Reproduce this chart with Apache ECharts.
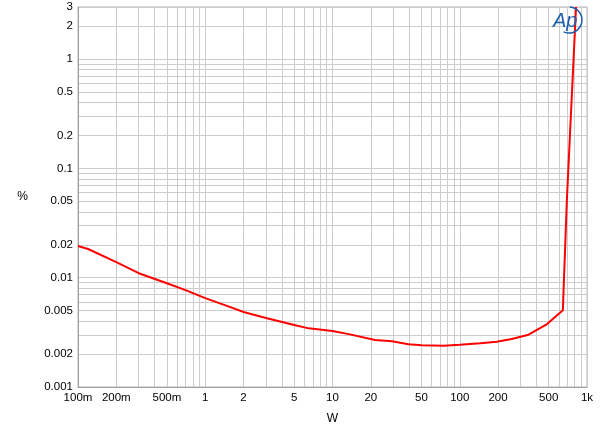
<!DOCTYPE html>
<html><head><meta charset="utf-8">
<script src="https://cdn.jsdelivr.net/npm/echarts@6/dist/echarts.min.js"></script>
<style>html,body{margin:0;padding:0;background:#fff}#c{width:600px;height:427px}</style>
</head><body><div id="c"></div>
<script>
const powerW = [0.1, 0.12, 0.2, 0.3, 0.5, 0.7, 1, 1.5, 2, 3, 5, 6.5, 10, 13.7, 21.6, 29.3, 39.5, 50.4, 74.5, 100, 145, 195, 256, 347, 478, 646, 694, 820];
const thdPct = [0.0195, 0.0183, 0.0139, 0.0110, 0.0089, 0.0077, 0.0065, 0.0055, 0.00485, 0.00428, 0.00369, 0.00344, 0.00325, 0.00303, 0.00269, 0.00262, 0.00246, 0.00241, 0.00239, 0.00244, 0.00251, 0.00260, 0.00275, 0.00301, 0.00372, 0.00503, 0.05, 3.0];
const xLabelValues = [0.1, 0.2, 0.5, 1, 2, 5, 10, 20, 50, 100, 200, 500, 1000];
const xLabelTexts = {0.1:'100m',0.2:'200m',0.5:'500m',1:'1',2:'2',5:'5',10:'10',20:'20',50:'50',100:'100',200:'200',500:'500',1000:'1k'};
const yLabelValues = [0.001, 0.002, 0.005, 0.01, 0.02, 0.05, 0.1, 0.2, 0.5, 1, 2, 3];

function gridVals(lo, hi) {
  const out = [];
  for (let e = -4; e <= 4; e++) for (let m = 1; m <= 9; m++) {
    const v = +(m * Math.pow(10, e)).toPrecision(6);
    if (v >= lo * 0.9999 && v <= hi * 1.0001) out.push(v);
  }
  if (!out.includes(hi)) out.push(hi);
  return out;
}
const xGrid = gridVals(0.1, 1000);
const yGrid = gridVals(0.001, 3);

const font = 'Arial, "Liberation Sans", sans-serif';
const chart = echarts.init(document.getElementById('c'), null, {renderer: 'canvas'});
chart.setOption({
  animation: false,
  grid: {left: 78, right: 13, top: 7, bottom: 40, show: true, borderColor: '#b4b4b4', borderWidth: 1, outerBoundsMode: 'none', containLabel: false},
  xAxis: {
    type: 'log', min: 0.1, max: 1000, logBase: 10,
    name: 'W', nameLocation: 'middle', nameGap: 26,
    nameTextStyle: {fontFamily: font, fontSize: 12, color: '#000'},
    axisLine: {show: true, lineStyle: {color: '#a0a0a0'}},
    axisTick: {show: false, customValues: xGrid},
    splitLine: {show: true, lineStyle: {color: '#cccccc', width: 1}},
    axisLabel: {customValues: xLabelValues, formatter: v => xLabelTexts[+(+v).toPrecision(6)] ?? String(v), fontFamily: font, fontSize: 11.5, color: '#000', margin: 5, showMinLabel: true, showMaxLabel: true}
  },
  yAxis: {
    type: 'log', min: 0.001, max: 3, logBase: 10,
    name: '%', nameLocation: 'middle', nameGap: 50, nameRotate: 0,
    nameTextStyle: {fontFamily: font, fontSize: 12, color: '#000'},
    axisLine: {show: true, lineStyle: {color: '#a0a0a0'}},
    axisTick: {show: false, customValues: yGrid},
    splitLine: {show: true, lineStyle: {color: '#cccccc', width: 1}},
    axisLabel: {customValues: yLabelValues, formatter: v => String(+(+v).toPrecision(6)), fontFamily: font, fontSize: 11.5, color: '#000', margin: 5, showMinLabel: true, showMaxLabel: true}
  },
  graphic: [{
    type: 'arc', shape: {cx: 569, cy: 20, r: 13, startAngle: -1.5, endAngle: 2.0},
    style: {stroke: '#1d5fae', lineWidth: 1.5, fill: null}, z: 100
  }, {
    type: 'text', x: 553, y: 11,
    style: {text: 'Ap', font: 'italic 20px Arial, "Liberation Sans", sans-serif', fill: '#1d5fae'}, z: 100
  }],
  series: [{
    type: 'line', data: powerW.map((x, i) => [x, thdPct[i]]),
    showSymbol: false, smooth: false, clip: true,
    lineStyle: {color: '#ff0000', width: 2}
  }]
});
</script></body></html>
